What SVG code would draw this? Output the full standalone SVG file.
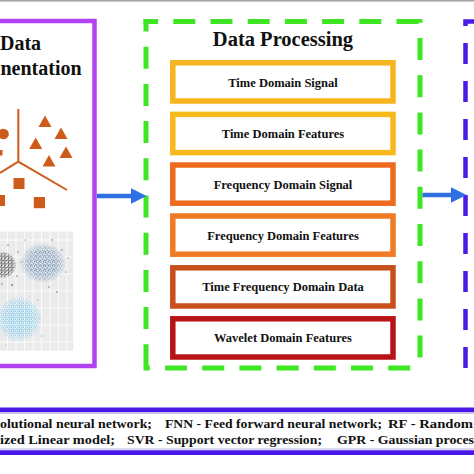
<svg xmlns="http://www.w3.org/2000/svg" width="474" height="474" viewBox="0 0 474 474">
<style>
.t{font-family:"Liberation Serif","Times New Roman",serif;font-weight:bold;fill:#111}
.box{fill:#fff;stroke-width:5.5}
.lbl{font-size:12.5px;text-anchor:middle}
.g{fill:none;stroke:#3fe624;stroke-width:5;stroke-dasharray:22 15.2}
.ic{fill:#cd5c1b}
.leg{font-size:12.5px}
</style>
<defs>
<radialGradient id="rg"><stop offset="0" stop-color="#fff"/><stop offset="0.6" stop-color="#eee"/><stop offset="0.85" stop-color="#777"/><stop offset="1" stop-color="#000"/></radialGradient>
<radialGradient id="rg2"><stop offset="0" stop-color="#fff"/><stop offset="0.8" stop-color="#fff"/><stop offset="1" stop-color="#444"/></radialGradient>
<mask id="fade" maskContentUnits="objectBoundingBox"><rect width="1" height="1" fill="url(#rg)"/></mask>
<mask id="fade2" maskContentUnits="objectBoundingBox"><rect width="1" height="1" fill="url(#rg2)"/></mask>
<pattern id="pBk" width="3.5" height="3.5" patternUnits="userSpaceOnUse"><g fill="#15151c"><circle cx="0.9" cy="0.9" r="0.7"/><circle cx="2.7" cy="1.6" r="0.65"/><circle cx="1.5" cy="2.8" r="0.7"/></g></pattern>
<pattern id="pDb" width="4.5" height="4.5" patternUnits="userSpaceOnUse"><g fill="#35679c"><circle cx="0.8" cy="1.2" r="0.7"/><circle cx="3.2" cy="0.6" r="0.65"/><circle cx="2.1" cy="2.7" r="0.7"/><circle cx="3.9" cy="3.5" r="0.65"/><circle cx="0.7" cy="3.9" r="0.6"/></g></pattern>
<pattern id="pLb" width="4" height="4" patternUnits="userSpaceOnUse"><g fill="#66c6f0"><circle cx="0.9" cy="1" r="0.75"/><circle cx="3" cy="1.5" r="0.7"/><circle cx="1.7" cy="3" r="0.75"/><circle cx="3.6" cy="3.5" r="0.65"/></g></pattern>
<marker id="ah" viewBox="0 0 10 10" refX="0" refY="5" markerWidth="3.4" markerHeight="3.6" orient="auto"><path d="M0,0 L10,5 L0,10 Z" fill="#2e6fe2"/></marker>
</defs>

<rect x="0" y="0" width="474" height="474" fill="#fff"/>
<rect x="0" y="0" width="474" height="1.6" fill="#a6a6a6"/>

<g id="augmentation">
<rect x="-10" y="21" width="104.5" height="345" fill="none" stroke="#b142f2" stroke-width="4.5"/>
<text class="t" x="0" y="50" font-size="20">Data</text>
<text class="t" x="0.5" y="75" font-size="20">nentation</text>
<g id="classes" stroke="#cd5c1b" stroke-width="2" fill="none">
<path d="M18.3,109 V161.7 L67,190 M18.3,161.7 L0,173"/>
</g>
<g class="ic">
<polygon points="45,115.5 51.5,127 38.5,127"/>
<polygon points="61,127.5 67.5,139 54.5,139"/>
<polygon points="35.7,137.5 42.2,149 29.2,149"/>
<polygon points="66,146.5 72.5,158 59.5,158"/>
<polygon points="49,155 55.5,166.5 42.5,166.5"/>
<circle cx="3.5" cy="134" r="5.3"/>
<rect x="-3" y="150" width="5.5" height="5.5"/>
<rect x="13.5" y="178" width="11" height="11"/>
<rect x="33.8" y="197" width="11.2" height="11.2"/>
<rect x="-6" y="195" width="11" height="11"/>
</g>
<g id="scatter">
<rect x="-2" y="231.7" width="75.3" height="119" fill="#ebebeb"/>
<g stroke="#fff" stroke-width="0.8">
<path d="M7.5,231.7V350.7M16,231.7V350.7M24.5,231.7V350.7M33,231.7V350.7M41.5,231.7V350.7M50,231.7V350.7M58.5,231.7V350.7M67,231.7V350.7"/>
<path d="M-2,240H73.3M-2,257H73.3M-2,274H73.3M-2,291H73.3M-2,308H73.3M-2,325H73.3M-2,342H73.3"/>
</g>
<ellipse cx="19" cy="319" rx="23" ry="23" fill="url(#pLb)" mask="url(#fade)"/>
<ellipse cx="43" cy="263" rx="23" ry="20" fill="url(#pDb)" mask="url(#fade)"/>
<ellipse cx="3" cy="265" rx="13" ry="13" fill="url(#pBk)" mask="url(#fade2)"/>
<g fill="#35679c"><circle cx="57" cy="292" r="0.7"/><circle cx="62" cy="250" r="0.7"/><circle cx="25" cy="240" r="0.6"/><circle cx="52" cy="240" r="0.7"/><circle cx="66" cy="272" r="0.6"/><circle cx="49" cy="287" r="0.7"/><circle cx="21" cy="262" r="0.6"/><circle cx="68" cy="258" r="0.6"/></g>
<g fill="#15151c"><circle cx="12" cy="285" r="0.7"/><circle cx="8" cy="245" r="0.6"/><circle cx="18" cy="252" r="0.6"/><circle cx="17" cy="276" r="0.6"/><circle cx="2" cy="284" r="0.6"/></g>
<g fill="#66c6f0"><circle cx="38" cy="300" r="0.7"/><circle cx="42" cy="336" r="0.7"/><circle cx="6" cy="345" r="0.6"/><circle cx="40" cy="318" r="0.6"/><circle cx="30" cy="296" r="0.6"/></g>
</g>
</g>

<g id="processing">
<path class="g" d="M143.5,21.5H422.5" stroke-dashoffset="-29.8"/>
<path class="g" d="M420,19V370" stroke-dasharray="20.5 17" stroke-dashoffset="-19"/>
<path class="g" d="M143.5,368H422.5" stroke-dasharray="22 15.8" stroke-dashoffset="-21.5"/>
<path class="g" d="M146,19V370" stroke-dasharray="21.5 16" stroke-dashoffset="-27.7"/>
<text class="t" x="283" y="46" font-size="20.5" text-anchor="middle">Data Processing</text>
</g>

<g id="n1"><rect class="box" x="172.8" y="62.8" width="220.2" height="38.2" stroke="#f6b51e"/><text class="t lbl" x="283" y="86.5">Time Domain Signal</text></g>
<g id="n2"><rect class="box" x="172.8" y="114.4" width="220.2" height="38.2" stroke="#f8b91c"/><text class="t lbl" x="283" y="138">Time Domain Features</text></g>
<g id="n3"><rect class="box" x="172.8" y="165" width="220.2" height="38.2" stroke="#ee6a1f"/><text class="t lbl" x="283" y="188.5">Frequency Domain Signal</text></g>
<g id="n4"><rect class="box" x="172.8" y="216" width="220.2" height="38.2" stroke="#f17a26"/><text class="t lbl" x="283" y="239.5">Frequency Domain Features</text></g>
<g id="n5"><rect class="box" x="172.8" y="267.8" width="220.2" height="38.2" stroke="#c9501c"/><text class="t lbl" x="283" y="291.3">Time Frequency Domain Data</text></g>
<g id="n6"><rect class="box" x="172.8" y="318.8" width="220.2" height="38.2" stroke="#b81418"/><text class="t lbl" x="283" y="342">Wavelet Domain Features</text></g>

<g id="modeling">
<path d="M474,21.5H465.5V370" fill="none" stroke="#4a1ae6" stroke-width="4.5" stroke-dasharray="21 17" stroke-dashoffset="-30"/>
</g>

<g id="connectors" stroke="#2e6fe2" stroke-width="4.5" fill="none">
<path d="M97,196H131" marker-end="url(#ah)"/>
<path d="M422.5,195H451" marker-end="url(#ah)"/>
</g>

<g id="legend">
<path d="M0,409.8H474M0,452.6H474" stroke="#4a18e6" stroke-width="4.8"/>
<path d="M0,413.3H474M0,449H474" stroke="#a9a2dc" stroke-width="0.8"/>
<text class="t leg" x="0" y="427.5" textLength="152" lengthAdjust="spacingAndGlyphs">olutional neural network;</text>
<text class="t leg" x="165" y="427.5" textLength="217" lengthAdjust="spacingAndGlyphs">FNN - Feed forward neural network;</text>
<text class="t leg" x="388" y="427.5" textLength="85" lengthAdjust="spacingAndGlyphs">RF - Random</text>
<text class="t leg" x="0" y="444" textLength="115" lengthAdjust="spacingAndGlyphs">ized Linear model;</text>
<text class="t leg" x="127" y="444" textLength="195" lengthAdjust="spacingAndGlyphs">SVR - Support vector regression;</text>
<text class="t leg" x="337" y="444" textLength="137" lengthAdjust="spacingAndGlyphs">GPR - Gaussian proces</text>
</g>
</svg>
